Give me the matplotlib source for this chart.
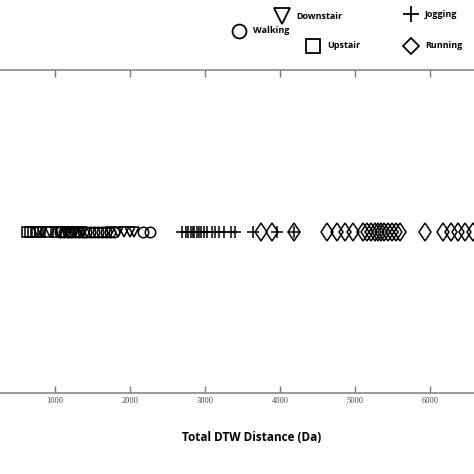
import matplotlib.pyplot as plt
from matplotlib.lines import Line2D

# DTW distances
walking = [1070, 1120, 1170, 1220, 1270, 1320, 1370, 1420, 1470, 1520, 1580, 1630, 1680, 1730, 1790, 2170, 2270]
downstair = [770, 830, 930, 1050, 1150, 1250, 1360, 1730, 1840, 1920, 2000, 2050]
upstair = [630, 670, 710, 750, 800, 910, 1010, 1090, 1200, 1310]
jogging = [2690, 2750, 2780, 2810, 2840, 2860, 2890, 2920, 2950, 2990, 3030, 3090, 3140, 3190, 3250, 3350, 3400, 3640, 3960, 4190]
running = [3750, 3890, 4190, 4630, 4760, 4870, 4970, 5110, 5160, 5210, 5270, 5310, 5350, 5390, 5440, 5490, 5550, 5600, 5930, 6170, 6280, 6370, 6470, 6570]

ticks = [1000, 2000, 3000, 4000, 5000, 6000]

series = [
    ("Walking", walking, "o", 7.5),
    ("Downstair", downstair, "v", 7),
    ("Upstair", upstair, "s", 6.5),
    ("Jogging", jogging, "+", 9),
    ("Running", running, "d", 9.5),
]

fig = plt.figure(figsize=(4.74, 4.74), dpi=100)
ax = fig.add_axes([0, 0.171, 1, 0.681])

for name, vals, m, ms in series:
    ax.plot(vals, [0] * len(vals), linestyle="none", marker=m, markersize=ms,
            markerfacecolor="none", markeredgecolor="black", markeredgewidth=1.1,
            color="black")

ax.set_xlim(267, 6587)
ax.set_ylim(-1, 1)
ax.set_yticks([])
ax.set_xticks(ticks)
ax.set_xticklabels([str(t) for t in ticks], fontsize=6, color="#444444", family="Liberation Serif")
ax.tick_params(axis="x", direction="in", top=True, length=5, width=1, color="#777777", pad=3)
for s in ["left", "right"]:
    ax.spines[s].set_visible(False)
for s in ["top", "bottom"]:
    ax.spines[s].set_color("#888888")
    ax.spines[s].set_linewidth(1.2)

fig.text(0.53, 0.076, "Total DTW Distance (Da)", ha="center", va="center",
         fontsize=8.5, fontweight="bold", family="Open Sans")

# legend, placed by hand
legend_items = [
    ("o", 0.504, 0.935, "Walking", 10),
    ("v", 0.595, 0.966, "Downstair", 11),
    ("s", 0.66, 0.903, "Upstair", 10),
    ("+", 0.867, 0.970, "Jogging", 12),
    ("D", 0.867, 0.903, "Running", 8),
]
for m, x, y, label, ms in legend_items:
    fig.add_artist(Line2D([x], [y], marker=m, markersize=ms, markerfacecolor="none",
                          markeredgecolor="black", markeredgewidth=1.3, linestyle="none",
                          transform=fig.transFigure))
    fig.text(x + 0.03, y, label, ha="left", va="center", fontsize=6.5,
             fontweight="bold", family="Open Sans")

fig.savefig("out.png", dpi=100)
